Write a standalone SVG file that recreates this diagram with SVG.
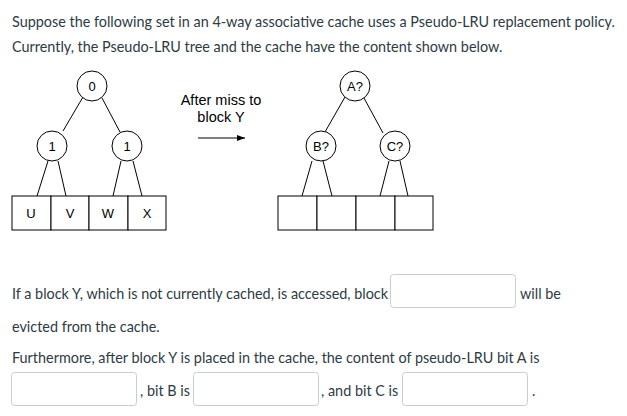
<svg xmlns="http://www.w3.org/2000/svg" width="627" height="416" viewBox="0 0 627 416">
<defs><marker id="ah" markerWidth="8" markerHeight="6" refX="8" refY="3" orient="auto"><path d="M0,0 L8,3 L0,6 Z" fill="#000"/></marker></defs>
<style>
.p{font-family:Lato,"Liberation Sans",sans-serif;font-size:14.4px;fill:#2d3b45}
.n{fill:#fff;stroke:#000;stroke-width:1}
.l{font-family:"Liberation Sans",Arial,sans-serif;font-size:13px;fill:#000;text-anchor:middle}
.e{stroke:#000;stroke-width:1;fill:none}
.b{fill:#fff;stroke:#c7cdd1;stroke-width:1}
</style>
<rect width="627" height="416" fill="#fff"/>
<text class="p" x="12" y="27">Suppose the following set in an 4-way associative cache uses a Pseudo-LRU replacement policy.</text>
<text class="p" x="12" y="52">Currently, the Pseudo-LRU tree and the cache have the content shown below.</text>
<g id="connectors">
<line class="e" x1="83" y1="97" x2="63" y2="131"/>
<line class="e" x1="102" y1="98" x2="120" y2="132"/>
<line class="e" x1="48" y1="161" x2="37" y2="196"/>
<line class="e" x1="58" y1="161" x2="66" y2="196"/>
<line class="e" x1="121" y1="161" x2="113" y2="196"/>
<line class="e" x1="133" y1="161" x2="142" y2="196"/>
<line class="e" x1="345" y1="97" x2="325" y2="132"/>
<line class="e" x1="364" y1="98" x2="383" y2="133"/>
<line class="e" x1="312" y1="161" x2="302" y2="196"/>
<line class="e" x1="323" y1="161" x2="332" y2="196"/>
<line class="e" x1="389" y1="161" x2="380" y2="196"/>
<line class="e" x1="400" y1="161" x2="408" y2="196"/>
<line class="e" x1="198" y1="138" x2="245" y2="138" marker-end="url(#ah)"/>
</g>
<g id="root0"><circle class="n" cx="92" cy="86" r="15"/><text class="l" x="92" y="91">0</text></g>
<g id="l1"><circle class="n" cx="52" cy="146" r="15"/><text class="l" x="52" y="151">1</text></g>
<g id="r1"><circle class="n" cx="127" cy="146" r="15"/><text class="l" x="127" y="151">1</text></g>
<g id="cacheL">
<rect class="n" x="12" y="196" width="39" height="34"/><text class="l" x="31" y="218">U</text>
<rect class="n" x="51" y="196" width="38" height="34"/><text class="l" x="70" y="218">V</text>
<rect class="n" x="89" y="196" width="39" height="34"/><text class="l" x="108" y="218">W</text>
<rect class="n" x="128" y="196" width="38" height="34"/><text class="l" x="147" y="218">X</text>
</g>
<g id="label"><text class="l" x="221" y="105" style="font-size:14.5px">After miss to</text><text class="l" x="221" y="122" style="font-size:14.5px">block Y</text></g>
<g id="A"><circle class="n" cx="355" cy="86" r="15"/><text class="l" x="355" y="91">A?</text></g>
<g id="B"><circle class="n" cx="321" cy="146" r="15"/><text class="l" x="321" y="151">B?</text></g>
<g id="C"><circle class="n" cx="395" cy="146" r="15"/><text class="l" x="395" y="151">C?</text></g>
<g id="cacheR">
<rect class="n" x="278" y="196" width="39" height="34"/>
<rect class="n" x="317" y="196" width="39" height="34"/>
<rect class="n" x="356" y="196" width="39" height="34"/>
<rect class="n" x="395" y="196" width="38" height="34"/>
</g>
<text class="p" x="12" y="299">If a block Y, which is not currently cached, is accessed, block</text>
<rect class="b" x="390.500" y="274.500" width="125" height="33" rx="3"/>
<text class="p" x="520" y="299">will be</text>
<text class="p" x="12" y="332">evicted from the cache.</text>
<text class="p" x="12" y="363">Furthermore, after block Y is placed in the cache, the content of pseudo-LRU bit A is</text>
<rect class="b" x="11.500" y="372.500" width="125" height="33" rx="3"/>
<text class="p" x="140" y="396">, bit B is</text>
<rect class="b" x="193.500" y="372.500" width="125" height="33" rx="3"/>
<text class="p" x="321" y="396">, and bit C is</text>
<rect class="b" x="402.500" y="372.500" width="125" height="33" rx="3"/>
<text class="p" x="532" y="396">.</text>
</svg>
